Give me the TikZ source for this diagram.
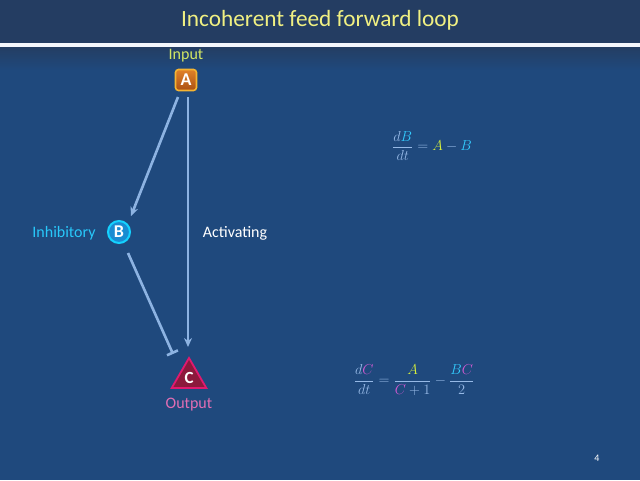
\documentclass[tikz,border=0pt]{standalone}
\usepackage{fontspec}
\setmainfont{Carlito}
\usetikzlibrary{arrows.meta,shapes.geometric}
\definecolor{bg}{RGB}{31,73,125}
\definecolor{hdr}{RGB}{36,61,98}
\definecolor{edge}{RGB}{141,179,226}
\definecolor{ttl}{RGB}{240,240,130}
\definecolor{inp}{RGB}{210,230,100}
\definecolor{inh}{RGB}{40,200,250}
\definecolor{outc}{RGB}{225,110,180}
\definecolor{cA}{RGB}{215,240,60}
\definecolor{cB}{RGB}{51,204,255}
\definecolor{cC}{RGB}{210,90,210}
\definecolor{cE}{RGB}{150,185,230}
\tikzset{
  lbl/.style={font=\fontsize{16}{18}\selectfont},
  link/.style={draw=edge,line width=2.6pt},
  act/.style={link,-{Stealth[length=9pt,width=8pt]}},
  inhib/.style={link,-{Bar[width=12pt,line width=2.6pt]}},
  eq/.style={font=\fontsize{15.5}{17}\selectfont,text=cE},
}
\begin{document}
\begin{tikzpicture}[x=1pt,y=-1pt]
\useasboundingbox (0,0) rectangle (640,480);
\fill[bg] (0,0) rectangle (640,480);
\shade[top color=hdr,bottom color=bg] (0,46) rectangle (640,70);
\fill[hdr] (0,0) rectangle (640,43);
\fill[white!90!edge] (0,43) rectangle (640,46.5);
\node[text=ttl,font=\fontsize{23.3}{26}\selectfont] (title) at (320,20) {Incoherent feed forward loop};
% nodes
\node[draw={rgb,255:red,245;green,180;blue,50},line width=1.6pt,rounded corners=3pt,
  top color={rgb,255:red,225;green,130;blue,40},bottom color={rgb,255:red,170;green,80;blue,20},
  minimum size=21pt,inner sep=0pt,text=white,font=\fontsize{18}{18}\selectfont\bfseries] (A) at (186,80) {A};
\node[circle,draw={rgb,255:red,20;green,210;blue,255},line width=2pt,
  fill={rgb,255:red,25;green,140;blue,210},minimum size=22pt,inner sep=0pt,
  text=white,font=\fontsize{18}{18}\selectfont\bfseries] (B) at (119,232) {B};
\node[regular polygon,regular polygon sides=3,draw={rgb,255:red,225;green,25;blue,110},line width=1.8pt,
  fill={rgb,255:red,140;green,25;blue,60},minimum size=40pt,inner sep=0pt] (C) at (189,378) {};
\node[text=white,font=\fontsize{17}{17}\selectfont\bfseries] (Ct) at (189,378) {C};
\node[lbl,text=inp] (lin) at (186,56) {Input};
\node[lbl,text=inh] (lb) at (64,233) {Inhibitory};
\node[lbl,text=white] (la) at (235,233) {Activating};
\node[lbl,text=outc] (lo) at (189,405) {Output};
% connectors
\coordinate (a1) at (178,97);
\coordinate (b1) at (131,216);
\coordinate (a2) at (188,97);
\coordinate (c2) at (188,347);
\coordinate (b2) at (128,253);
\coordinate (c3) at (173,354);
\draw[act] (a1) -- (b1);
\draw[act] (a2) -- (c2);
\draw[inhib] (b2) -- (c3);
% equations
\node[eq] (eq1) at (432,146) {$\displaystyle\frac{d\textcolor{cB}{B}}{dt}=\textcolor{cA}{A}-\textcolor{cB}{B}$};
\node[eq] (eq2) at (414,380) {$\displaystyle\frac{d\textcolor{cC}{C}}{dt}=\frac{\textcolor{cA}{A}}{\textcolor{cC}{C}+1}-\frac{\textcolor{cB}{B}\textcolor{cC}{C}}{2}$};
\node[text=white,font=\fontsize{10}{11}\selectfont] (pg) at (597,458) {4};
\end{tikzpicture}
\end{document}
